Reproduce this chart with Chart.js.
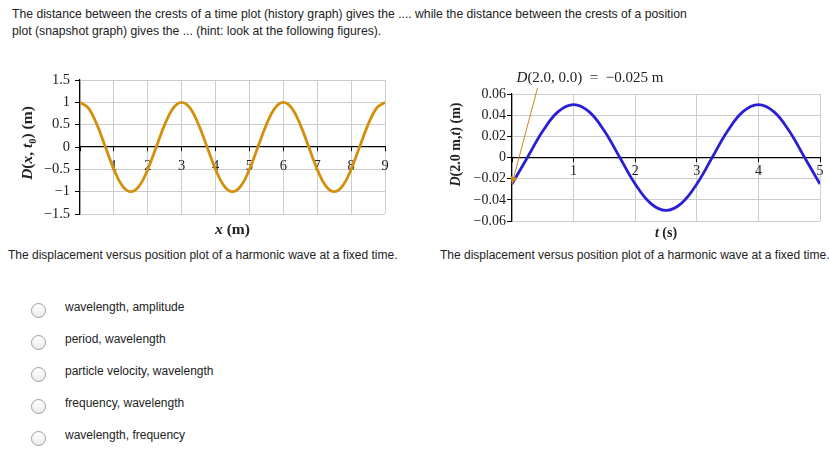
<!DOCTYPE html>
<html><head><meta charset="utf-8">
<script src="https://cdn.jsdelivr.net/npm/chart.js@4.4.1/dist/chart.umd.min.js"></script>
<style>
html,body{margin:0;padding:0;background:#fff;}
body{width:829px;height:458px;position:relative;overflow:hidden;font-family:"Liberation Sans",Arial,sans-serif;color:#222;}
.abs{position:absolute;}
#q{left:12px;top:6px;font-size:12.2px;line-height:17px;white-space:nowrap;}
.cap{font-size:12px;white-space:nowrap;top:248px;line-height:14px;}
.radio{position:absolute;left:31px;border:1px solid #9c9c9c;border-radius:50%;background:linear-gradient(#fff,#ececec);box-sizing:border-box;width:15px;height:15px;}
.lab{position:absolute;left:65px;white-space:nowrap;font-size:12px;line-height:14px;}
</style></head><body>
<div id="q" class="abs">The distance between the crests of a time plot (history graph) gives the .... while the distance between the crests of a position<br>plot (snapshot graph) gives the ... (hint: look at the following figures).</div>
<canvas id="c1" class="abs" width="420" height="185" style="left:0;top:60px;width:420px;height:185px"></canvas>
<canvas id="c2" class="abs" width="399" height="185" style="left:430px;top:60px;width:399px;height:185px"></canvas>
<div class="abs cap" style="left:8px">The displacement versus position plot of a harmonic wave at a fixed time.</div>
<div class="abs cap" style="left:440px">The displacement versus position plot of a harmonic wave at a fixed time.</div>
<div id="opts"></div>
<script>
// ---- Data: snapshot graph D(x, t0) ----
const posX = [0,0.25,0.5,0.75,1,1.25,1.5,1.75,2,2.25,2.5,2.75,3,3.25,3.5,3.75,4,4.25,4.5,4.75,5,5.25,5.5,5.75,6,6.25,6.5,6.75,7,7.25,7.5,7.75,8,8.25,8.5,8.75,9];
const posD = [1,0.87,0.5,0,-0.5,-0.87,-1,-0.87,-0.5,0,0.5,0.87,1,0.87,0.5,0,-0.5,-0.87,-1,-0.87,-0.5,0,0.5,0.87,1,0.87,0.5,0,-0.5,-0.87,-1,-0.87,-0.5,0,0.5,0.87,1];
const posXTicks = [0,1,2,3,4,5,6,7,8,9];
const posYTicks = [-1.5,-1,-0.5,0,0.5,1,1.5];

// ---- Data: history graph D(2.0 m, t) ----
const timeT = [0,0.25,0.5,0.75,1,1.25,1.5,1.75,2,2.25,2.5,2.75,3,3.25,3.5,3.75,4,4.25,4.5,4.75,5];
const timeD = [-0.025,0,0.025,0.0433,0.05,0.0433,0.025,0,-0.025,-0.0433,-0.05,-0.0433,-0.025,0,0.025,0.0433,0.05,0.0433,0.025,0,-0.025];
const timeXTicks = [0,1,2,3,4,5];
const timeYTicks = [-0.06,-0.04,-0.02,0,0.02,0.04,0.06];
const annotT = 0, annotD = -0.025;

const choices = ['wavelength, amplitude','period, wavelength','particle velocity, wavelength','frequency, wavelength','wavelength, frequency'];

// options list
const opts = document.getElementById('opts');
choices.forEach((c, i) => {
  const r = document.createElement('div'); r.className = 'radio'; r.style.top = (303 + i * 32) + 'px'; opts.appendChild(r);
  const l = document.createElement('div'); l.className = 'lab'; l.textContent = c; l.style.top = (300 + i * 32) + 'px'; opts.appendChild(l);
});

const fmt = v => v === 0 ? '0' : (v < 0 ? '\u2212' : '') + Math.abs(v);
const fmtX = v => v === 0 ? '' : String(v);
const setTicks = arr => s => { s.ticks = arr.map(v => ({ value: v })); };
const GRID = '#cdcdcd';
const INK = '#222';

function drawRuns(ctx, runs, cx, cy, rot, size, bold) {
  ctx.save(); ctx.translate(cx, cy); ctx.rotate(rot);
  const fontFor = r => (r.i ? 'italic ' : '') + (bold ? 'bold ' : '') + (r.sub ? size * 0.68 : size) + 'px "Liberation Serif"';
  let total = 0;
  runs.forEach(r => { ctx.font = fontFor(r); r.w = ctx.measureText(r.t).width; total += r.w; });
  let x = -total / 2;
  ctx.textBaseline = 'middle'; ctx.fillStyle = INK;
  runs.forEach(r => { ctx.font = fontFor(r); ctx.fillText(r.t, x, r.sub ? size * 0.32 : 0); x += r.w; });
  ctx.restore();
}

function makeScales(xMax, xTicks, yMin, yMax, yTicks, yWidth, xHeight, fsize, xPad, yPad) {
  return {
    x: { type: 'linear', min: 0, max: xMax, afterBuildTicks: setTicks(xTicks),
         ticks: { display: false }, grid: { color: GRID, drawTicks: false }, border: { display: false },
         afterFit: s => { s.height = xHeight; } },
    x0: { type: 'linear', axis: 'x', position: { y: 0 }, min: 0, max: xMax, afterBuildTicks: setTicks(xTicks),
          ticks: { callback: fmtX, font: { family: 'Liberation Serif', size: fsize }, color: INK, padding: xPad, maxRotation: 0, autoSkip: false },
          grid: { display: true, drawOnChartArea: false, tickLength: 4, tickColor: '#000' },
          border: { color: '#000', width: 1.2 } },
    y: { type: 'linear', min: yMin, max: yMax, afterBuildTicks: setTicks(yTicks),
         ticks: { callback: fmt, font: { family: 'Liberation Serif', size: fsize }, color: INK, padding: yPad },
         grid: { color: c => (c.tick && c.tick.value === 0) ? 'rgba(0,0,0,0)' : GRID, tickColor: '#000', tickLength: 5 },
         border: { color: '#000', width: 1.2 },
         afterFit: s => { s.width = yWidth; } }
  };
}

const common = { responsive: false, animation: false, events: [],
  plugins: { legend: { display: false }, tooltip: { enabled: false } } };

new Chart(document.getElementById('c1'), {
  type: 'line',
  data: { datasets: [{ data: posX.map((x, i) => ({ x, y: posD[i] })), borderColor: '#d4900c', borderWidth: 2.8,
           pointRadius: 0, tension: 0.4, fill: false }] },
  options: Object.assign({}, common, {
    layout: { padding: { top: 20, right: 35, left: 0, bottom: 0 } },
    scales: makeScales(9, posXTicks, -1.5, 1.5, posYTicks, 80, 31, 14.5, 6, 5)
  }),
  plugins: [{ id: 'titles1', afterDraw(chart) {
    const { ctx, chartArea: a } = chart;
    drawRuns(ctx, [{ t: 'D', i: 1 }, { t: '(' }, { t: 'x', i: 1 }, { t: ', ' }, { t: 't', i: 1 }, { t: '0', sub: 1 }, { t: ') (m)' }],
      a.left - 52, (a.top + a.bottom) / 2 - 4, -Math.PI / 2, 15.5, true);
    drawRuns(ctx, [{ t: 'x', i: 1 }, { t: ' (m)' }], (a.left + a.right) / 2, a.bottom + 16, 0, 15.5, true);
  } }]
});

new Chart(document.getElementById('c2'), {
  type: 'line',
  data: { datasets: [{ data: timeT.map((t, i) => ({ x: t, y: timeD[i] })), borderColor: '#2a1fd2', borderWidth: 2.8,
           pointRadius: 0, tension: 0.4, fill: false }] },
  options: Object.assign({}, common, {
    layout: { padding: { top: 34, right: 9, left: 0, bottom: 0 } },
    scales: makeScales(5, timeXTicks, -0.06, 0.06, timeYTicks, 82, 24, 14, 1, 1)
  }),
  plugins: [{ id: 'titles2', afterDraw(chart) {
    const { ctx, chartArea: a, scales } = chart;
    drawRuns(ctx, [{ t: 'D', i: 1 }, { t: '(2.0 m,' }, { t: 't', i: 1 }, { t: ') (m)' }],
      a.left - 56, (a.top + a.bottom) / 2 - 13, -Math.PI / 2, 14, true);
    drawRuns(ctx, [{ t: 't', i: 1 }, { t: ' (s)' }], (a.left + a.right) / 2, a.bottom + 12, 0, 14, true);
    // annotation
    const px = scales.x.getPixelForValue(annotT), py = scales.y.getPixelForValue(annotD);
    const lx = px + 25.5, ly = a.top - 6;
    ctx.save();
    ctx.strokeStyle = '#c98a1c'; ctx.lineWidth = 1;
    ctx.beginPath(); ctx.moveTo(px, py); ctx.lineTo(lx, ly); ctx.stroke();
    const ang = Math.atan2(ly - py, lx - px);
    ctx.fillStyle = '#c98a1c';
    ctx.beginPath(); ctx.moveTo(px, py);
    ctx.lineTo(px + 8 * Math.cos(ang + 0.45), py + 8 * Math.sin(ang + 0.45));
    ctx.lineTo(px + 8 * Math.cos(ang - 0.45), py + 8 * Math.sin(ang - 0.45));
    ctx.closePath(); ctx.fill();
    ctx.restore();
    drawRuns(ctx, [{ t: 'D', i: 1 }, { t: '(2.0, 0.0)\u2002=\u2002\u22120.025 m' }], a.left + 78, a.top - 16, 0, 15, false);
  } }]
});
</script>
</body></html>
